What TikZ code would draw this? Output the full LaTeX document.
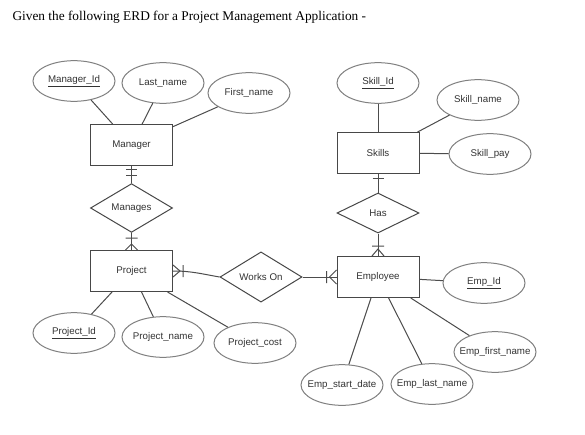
\documentclass[tikz,border=0pt]{standalone}
\usepackage{fontspec}
\setmainfont{Liberation Serif}
\newfontfamily\diagfont{Liberation Sans}
\usetikzlibrary{shapes.geometric}

\tikzset{every picture/.style={line width=0.75pt}}
\tikzset{
  erdtext/.style={font=\diagfont\fontsize{7.3}{9}\selectfont, text=black!80},
  entity/.style={erdtext, draw=black!72, rectangle, minimum width=61.5pt, minimum height=30.75pt, inner sep=0pt},
  attrib/.style={erdtext, draw=black!50, ellipse, minimum width=61.5pt, minimum height=30.5pt, inner ysep=0pt, inner xsep=-12pt},
  relation/.style={erdtext, draw=black!72, diamond, minimum width=61.5pt, minimum height=30pt, inner sep=0pt},
  link/.style={draw=black!70},
}

\begin{document}
\begin{tikzpicture}[x=0.75pt,y=0.75pt,yscale=-1,xscale=1]
\fill [white] (0,0) rectangle (585,435);
\useasboundingbox (0,0) rectangle (585,435);

% Text Node
\node [anchor=base west, inner sep=0pt, font=\fontsize{10}{12}\selectfont] (title) at (12,21) {Given the following ERD for a Project Management Application -};

% Entities
\node [entity] (mgr) at (131.5,145) {Manager};
\node [entity] (proj) at (131.5,271) {Project};
\node [entity] (skills) at (378,153) {Skills};
\node [entity] (emp) at (378,277) {Employee};

% Relations
\node [relation] (manages) at (131.5,208) {Manages};
\node [relation] (has) at (378,213) {Has};
\node [relation] (works) at (261,277) {Works On};

% Attributes
\node [attrib] (mgrid) at (74,81) {\underline{Manager\_Id}};
\node [attrib] (lname) at (163,83) {Last\_name};
\node [attrib] (fname) at (249,93) {First\_name};
\node [attrib] (skid) at (378,83) {\underline{Skill\_Id}};
\node [attrib] (skname) at (478,100) {Skill\_name};
\node [attrib] (skpay) at (490,154) {Skill\_pay};
\node [attrib] (projid) at (74,333) {\underline{Project\_Id}};
\node [attrib] (projname) at (163,337) {Project\_name};
\node [attrib] (projcost) at (255,343) {Project\_cost};
\node [attrib] (empid) at (484,283) {\underline{Emp\_Id}};
\node [attrib] (empfirst) at (495,352) {Emp\_first\_name};
\node [attrib] (empstart) at (342,385) {Emp\_start\_date};
\node [attrib] (emplast) at (432,384) {Emp\_last\_name};

% Attribute Lines
\draw [link] (mgrid) -- (mgr);
\draw [link] (lname) -- (mgr);
\draw [link] (fname) -- (mgr);
\draw [link] (skid) -- (skills);
\draw [link] (skname) -- (skills);
\draw [link] (skpay) -- (skills);
\draw [link] (projid) -- (proj);
\draw [link] (projname) -- (proj);
\draw [link] (projcost) -- (proj);
\draw [link] (empid) -- (emp);
\draw [link] (empfirst) -- (emp);
\draw [link] (empstart) -- (emp);
\draw [link] (emplast) -- (emp);

% Relation Lines
\draw [link] (mgr.south) -- (manages.north);
\draw [link] (manages.south) -- (proj.north);
\draw [link] (skills.south) -- (has.north);
\draw [link] (has.south) -- (emp.north);
\draw [link] (proj.east) to [out=0, in=190] (works.west);
\draw [link] (works.east) -- (emp.west);

% Cardinality Marks
\draw [link, shift={(mgr.south)}] (-5.5,3.5) -- (5.5,3.5) (-5.5,9) -- (5.5,9) ;
\draw [link, shift={(proj.north)}] (-6,-12) -- (6,-12) (-6,0) -- (0,-6) -- (6,0) ;
\draw [link, shift={(skills.south)}] (-5.5,4) -- (5.5,4) ;
\draw [link, shift={(emp.north)}] (-6,-10) -- (6,-10) (-6,0) -- (0,-7) -- (6,0) ;
\draw [link, shift={(emp.west)}] (-10,-6) -- (-10,6) (0,-7) -- (-7,0) -- (0,7) ;
\draw [link, shift={(proj.east)}] (10,-6) -- (10,6) (0,-6) -- (7,0) -- (0,6) ;
\end{tikzpicture}
\end{document}
